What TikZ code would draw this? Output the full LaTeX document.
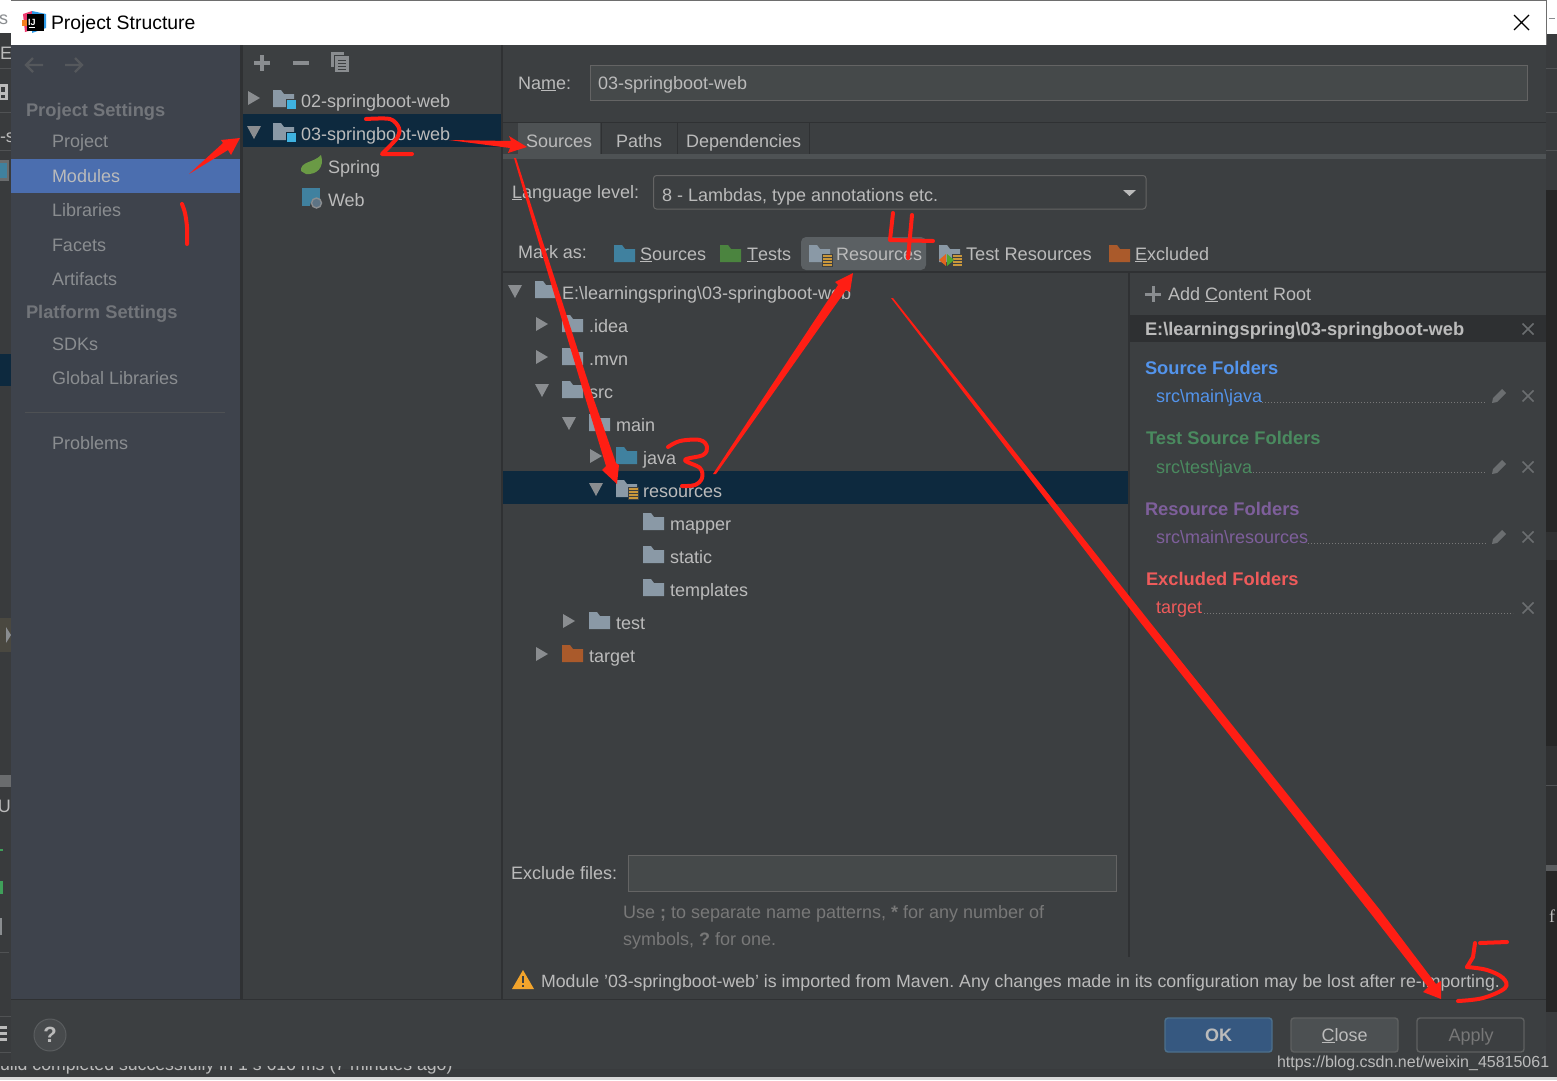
\documentclass[tikz,border=0pt]{standalone}
\usepackage{fontspec}
\setmainfont{Liberation Sans}
\newfontfamily\stripserif{Liberation Serif}
\definecolor{sidebar}{HTML}{3E434C}
\definecolor{panel}{HTML}{3C3F41}
\definecolor{divider}{HTML}{2F3133}
\definecolor{selrow}{HTML}{0D293E}
\definecolor{modsel}{HTML}{4B6EAF}
\definecolor{uitext}{HTML}{BBBBBB}
\definecolor{dimtext}{HTML}{8A8D90}
\definecolor{hinttext}{HTML}{787878}
\definecolor{sectext}{HTML}{72757A}
\definecolor{foldergrey}{HTML}{8A99A6}
\definecolor{folderblue}{HTML}{40819F}
\definecolor{foldergreen}{HTML}{4B843F}
\definecolor{folderorange}{HTML}{AA5A2B}
\definecolor{modblue}{HTML}{3FB2E0}
\definecolor{resbar}{HTML}{C9973C}
\definecolor{redmark}{HTML}{FF1E14}
\definecolor{srcblue}{HTML}{5394EC}
\definecolor{tstgreen}{HTML}{4A8A5F}
\definecolor{respurple}{HTML}{7E5F9B}
\definecolor{exred}{HTML}{EF5B5B}
\definecolor{iconx}{HTML}{6B6E70}
\definecolor{fieldfill}{HTML}{45494A}
\definecolor{fieldline}{HTML}{646464}
\definecolor{stripdark}{HTML}{393B3D}
\definecolor{stripblack}{HTML}{262626}
\definecolor{stripmid}{HTML}{303132}
\definecolor{stripgrey}{HTML}{5A5C5E}
\definecolor{stripbrown}{HTML}{4A4840}
\definecolor{stripbar}{HTML}{6A6C6E}
\definecolor{stripline}{HTML}{505254}
\definecolor{screenlight}{HTML}{D8D8D8}
\definecolor{sepline}{HTML}{4E5154}
\definecolor{ijpink}{HTML}{EE3A6E}
\definecolor{ijblue}{HTML}{2E9BE8}
\definecolor{ijorange}{HTML}{F58020}
\definecolor{navarrow}{HTML}{55585C}
\definecolor{springgreen}{HTML}{6A9A45}
\definecolor{globefill}{HTML}{5E7485}
\definecolor{tabfill}{HTML}{4E5254}
\definecolor{markfill}{HTML}{5B6063}
\definecolor{arrowor}{HTML}{E2651F}
\definecolor{arrowgr}{HTML}{4DA72E}
\definecolor{rootbar}{HTML}{2E3032}
\definecolor{warnfill}{HTML}{F2A42C}
\definecolor{helpfill}{HTML}{474A4C}
\definecolor{helpline}{HTML}{5A5D5F}
\definecolor{okfill}{HTML}{365880}
\definecolor{okline}{HTML}{4C708C}
\definecolor{btnfill}{HTML}{4C5052}
\definecolor{btnline}{HTML}{5E6060}
\definecolor{offtext}{HTML}{777777}
\definecolor{stripgreen}{HTML}{3F9F5A}
\definecolor{frameline}{HTML}{6E6E6E}
\tikzset{
  x=1pt,y=-1pt,
  every node/.style={inner sep=0pt,outer sep=0pt},
  uilabel/.style={anchor=base west,text=uitext,font=\fontsize{18}{20}\selectfont\frenchspacing},
  dimlabel/.style={uilabel,text=dimtext},
  seclabel/.style={uilabel,text=sectext,font=\fontsize{18.3}{20}\selectfont\bfseries},
  boldlabel/.style={uilabel,font=\fontsize{18.3}{20}\selectfont\bfseries},
  hint/.style={uilabel,text=hinttext},
  btnlabel/.style={anchor=base,text=uitext,font=\fontsize{18}{20}\selectfont},
  redline/.style={draw=redmark,line width=4pt,line cap=round,line join=round},
  redfill/.style={fill=redmark,draw=none},
  xicon/.style={draw=iconx,line width=1.6pt},
  tick/.style={fill=dimtext,draw=none},
  dotline/.style={draw=hinttext,line width=0.7pt,dash pattern=on 1pt off 2pt},
}
\newcommand{\folderic}[4][foldergrey]{%
  \fill[#1] (#2,#3) -- ++(8,0) -- ++(3,4) -- ++(10,0) -- ++(0,13) -- ++(-21,0) -- cycle;}
\newcommand{\resbars}[2]{%
  \fill[panel] (#1-1,#2-1) rectangle ++(11,13);
  \foreach \k in {0,3,6,9}{\fill[resbar] (#1,#2+\k) rectangle ++(9,2);}}
\newcommand{\tridown}[2]{\fill[tick] (#1,#2) -- ++(14,0) -- ++(-7,13) -- cycle;}
\newcommand{\triright}[2]{\fill[tick] (#1,#2) -- ++(12,7) -- ++(-12,7) -- cycle;}
\newcommand{\crossic}[2]{\draw[xicon] (#1-5.5,#2-5.5) -- ++(11,11) (#1+5.5,#2-5.5) -- ++(-11,11);}
\newcommand{\pencilic}[2]{\fill[iconx] (#1-7,#2+7) -- ++(1,-5) -- ++(9,-9) -- ++(4,4) -- ++(-9,9) -- cycle;}
\begin{document}
\begin{tikzpicture}
\useasboundingbox (0,0) rectangle (1557,1080);
% --- surrounding desktop strips
\fill[stripdark] (0,0) rectangle (1557,1080);
\fill[white] (0,0) rectangle (11,33);
\node[uilabel,text=dimtext] (lefts) at (-1,24) {s};
\node[uilabel] (lefte) at (0,59) {Ec};
\draw[stripline,line width=1pt] (0,68) -- (11,68) (0,112) -- (11,112) (0,150) -- (11,150);
\fill[uitext] (0,84) rectangle (8,100);
\fill[stripdark] (1,87) rectangle (5,92);
\fill[stripdark] (1,95) rectangle (5,98);
\node[uilabel] (lefts2) at (0,142) {-s};
\fill[stripbar] (0,160) rectangle (9,181);
\fill[folderblue] (0,163) rectangle (7,178);
\fill[selrow] (0,354) rectangle (11,386);
\fill[stripbrown] (0,618) rectangle (11,652);
\fill[tick] (6,627) -- (11,635) -- (6,643) -- cycle;
\fill[stripbar] (0,775) rectangle (11,787);
\node[uilabel] (leftu) at (-2,812) {UI};
\fill[stripgreen] (0,849) rectangle (3,851);
\fill[stripgreen] (0,881) rectangle (3,894);
\fill[dimtext] (0,918) rectangle (2,935);
\draw[stripline,line width=1pt] (0,952) -- (9,952) (0,1016) -- (11,1016) (0,1052) -- (11,1052);
\foreach \yy in {1026,1032,1038}{\fill[uitext] (0,\yy) rectangle (7,\yy+3);}
\fill[white] (1546,0) rectangle (1557,34);
\draw[dimtext,line width=1pt] (1549,18) -- (1555,18);
\draw[stripline,line width=1pt] (1546,68) -- (1557,68) (1546,112) -- (1557,112) (1546,150) -- (1557,150);
\fill[stripblack] (1546,190) rectangle (1557,746);
\fill[stripmid] (1546,532) rectangle (1557,560);
\fill[stripmid] (1546,746) rectangle (1557,865);
\draw[stripline,line width=1pt] (1546,785) -- (1557,785);
\fill[stripgrey] (1546,865) rectangle (1557,871);
\fill[stripblack] (1546,871) rectangle (1557,1012);
\node[anchor=base west,text=uitext,font=\stripserif\fontsize{18}{20}\selectfont] (rightf) at (1549,922) {f};
\fill[screenlight] (0,1077) rectangle (1557,1080);
% --- dialog
\fill[white] (11,0) rectangle (1546,45);
\draw[frameline,line width=1pt] (11,0.5) -- (1546,0.5);
\draw[frameline,line width=1pt] (1546,0) -- (1546,45);
\fill[panel] (11,45) rectangle (1546,1069);
\fill[sidebar] (11,45) rectangle (240,999);
\fill[divider] (240,45) rectangle (243,999);
\fill[divider] (501,45) rectangle (503,999);
\fill[modsel] (11,159) rectangle (240,193);
\fill[selrow] (243,114) rectangle (501,147);
\fill[selrow] (503,471) rectangle (1129,504);
\draw[divider,line width=1pt] (503,122) -- (1546,122);
\draw[divider,line width=1.5pt] (503,272) -- (1546,272);
\draw[divider,line width=1.5pt] (1129,272) -- (1129,957);
\draw[divider,line width=1pt] (11,999) -- (1546,999);
\draw[sepline,line width=1pt] (25,412) -- (225,412);
% --- title bar
\fill[ijpink] (23,14) -- (32,11) -- (32,30) -- (25,32) -- cycle;
\fill[ijblue] (32,11) -- (46,14) -- (46,28) -- (32,33) -- cycle;
\fill[ijorange] (22,20) rectangle (28,26);
\fill[black] (27,14) rectangle (44,31);
\node[anchor=base west,text=white,font=\fontsize{9}{9}\selectfont\bfseries] (iconij) at (28,25) {IJ};
\fill[white] (29,27) rectangle (35,28);
\node[anchor=base west,text=black,font=\fontsize{19.4}{20}\selectfont] (title) at (51,29) {Project Structure};
\draw[black,line width=1.2pt] (1514,15) -- (1529,30) (1529,15) -- (1514,30);
% --- left sidebar
\draw[navarrow,line width=2.4pt] (43,65) -- (26,65) (33,58) -- (26,65) -- (33,72);
\draw[navarrow,line width=2.4pt] (65,65) -- (82,65) (75,58) -- (82,65) -- (75,72);
\node[seclabel] (s1) at (26,116) {Project Settings};
\node[dimlabel] (m1) at (52,147) {Project};
\node[uilabel] (m2) at (52,182) {Modules};
\node[dimlabel] (m3) at (52,216) {Libraries};
\node[dimlabel] (m4) at (52,251) {Facets};
\node[dimlabel] (m5) at (52,285) {Artifacts};
\node[seclabel] (s2) at (26,318) {Platform Settings};
\node[dimlabel] (m6) at (52,350) {SDKs};
\node[dimlabel] (m7) at (52,384) {Global Libraries};
\node[dimlabel] (m8) at (52,449) {Problems};
% --- module list
\draw[dimtext,line width=3.2pt] (254,63) -- (270,63) (262,55) -- (262,71);
\draw[dimtext,line width=3.2pt] (293,63) -- (309,63);
\fill[dimtext] (331,52) rectangle (344,67);
\fill[panel] (334,55) rectangle (344,67);
\fill[dimtext] (335,56) rectangle (349,72);
\foreach \yy in {60,63,66,69}{\fill[panel] (338,\yy) rectangle (346,\yy+1.4);}
\triright{248}{91}
\folderic{273}{90}{}
\fill[panel] (286,99) rectangle (296,110);
\fill[modblue] (287,100) rectangle (296,109);
\node[uilabel] (mod2) at (301,107) {02-springboot-web};
\tridown{247}{126}
\folderic{273}{123}{}
\fill[selrow] (286,132) rectangle (296,143);
\fill[modblue] (287,133) rectangle (296,142);
\node[uilabel] (mod3) at (301,140) {03-springboot-web};
\fill[springgreen] (301,171) .. controls (300,161) and (314,163) .. (321,155) .. controls (325,168) and (316,175) .. (306,174) -- cycle;
\node[uilabel] (spring) at (328,173) {Spring};
\fill[folderblue] (302,188) rectangle (320,206);
\fill[panel] (317,206) circle (7);
\draw[dimtext,line width=1.4pt,fill=globefill] (316.5,203) circle (5);
\node[uilabel] (web) at (328,206) {Web};
% --- right upper
\node[uilabel] (nm) at (518,89) {Na\underline{m}e:};
\filldraw[fill=fieldfill,draw=fieldline,line width=1pt] (590.5,65.5) rectangle (1527,100);
\node[uilabel] (nmv) at (598,89) {03-springboot-web};
\fill[tabfill] (518,123) rectangle (600,154);
\fill[tabfill] (503,154) rectangle (1546,159);
\draw[divider,line width=1pt] (601.5,123) -- (601.5,154) (677.5,123) -- (677.5,154) (809.5,123) -- (809.5,154);
\node[uilabel] (t1) at (526,147) {Sources};
\node[uilabel] (t2) at (616,147) {Paths};
\node[uilabel] (t3) at (686,147) {Dependencies};
\node[uilabel] (ll) at (512,198) {\underline{L}anguage level:};
\draw[fieldline,rounded corners=3pt,line width=1pt] (653.5,175.5) rectangle (1146,209);
\node[uilabel] (llv) at (662,201) {8 - Lambdas, type annotations etc.};
\fill[uitext] (1123,190) -- (1136,190) -- (1129.5,196) -- cycle;
\node[uilabel] (ma) at (518,258) {Mark as:};
\folderic[folderblue]{614}{245}{}
\node[uilabel] (ma1) at (640,260) {\underline{S}ources};
\folderic[foldergreen]{720}{245}{}
\node[uilabel] (ma2) at (747,260) {\underline{T}ests};
\fill[markfill,rounded corners=5pt] (801,237) rectangle (926,270);
\folderic{809}{245}{}
\resbars{823}{255}
\node[uilabel] (ma3) at (836,260) {Resources};
\folderic{939}{245}{}
\resbars{953}{255}
\fill[arrowor] (946,254) -- (946,266) -- (939,260) -- cycle;
\fill[arrowgr] (947,254) -- (947,266) -- (954,260) -- cycle;
\node[uilabel,font=\fontsize{18.25}{20}\selectfont] (ma4) at (966,260) {Test Resources};
\folderic[folderorange]{1109}{245}{}
\node[uilabel] (ma5) at (1135,260) {\underline{E}xcluded};
% --- tree
\tridown{508}{285}\folderic{535}{281}{}
\node[uilabel] (r0) at (562,299) {E:\textbackslash learningspring\textbackslash 03-springboot-web};
\triright{536}{317}\folderic{562}{315}{}
\node[uilabel] (r1) at (589,332) {.idea};
\triright{536}{350}\folderic{562}{348}{}
\node[uilabel] (r2) at (589,365) {.mvn};
\tridown{535}{384}\folderic{562}{381}{}
\node[uilabel] (r3) at (589,398) {src};
\tridown{562}{417}\folderic{589}{414}{}
\node[uilabel] (r4) at (616,431) {main};
\triright{590}{449}\folderic[folderblue]{616}{447}{}
\node[uilabel] (r5) at (643,464) {java};
\tridown{589}{483}\folderic{616}{480}{}
\resbars{629}{488}
\node[uilabel] (r6) at (643,497) {resources};
\folderic{643}{513}{}
\node[uilabel] (r7) at (670,530) {mapper};
\folderic{643}{546}{}
\node[uilabel] (r8) at (670,563) {static};
\folderic{643}{579}{}
\node[uilabel] (r9) at (670,596) {templates};
\triright{563}{614}\folderic{589}{612}{}
\node[uilabel] (r10) at (616,629) {test};
\triright{536}{647}\folderic[folderorange]{562}{645}{}
\node[uilabel] (r11) at (589,662) {target};
% --- content root panel
\draw[dimtext,line width=3pt] (1145,294) -- (1161,294) (1153,286) -- (1153,302);
\node[uilabel] (cr) at (1168,300) {Add \underline{C}ontent Root};
\fill[rootbar] (1130,315) rectangle (1546,342);
\node[boldlabel] (crp) at (1145,335) {E:\textbackslash learningspring\textbackslash 03-springboot-web};
\crossic{1528}{329}
\node[boldlabel,text=srcblue] (h1) at (1145,374) {Source Folders};
\node[uilabel,text=srcblue] (p1) at (1156,402) {src\textbackslash main\textbackslash java};
\draw[dotline] (1262,402) -- (1486,402);
\pencilic{1499}{396}\crossic{1528}{396}
\node[boldlabel,text=tstgreen] (h2) at (1146,444) {Test Source Folders};
\node[uilabel,text=tstgreen] (p2) at (1156,473) {src\textbackslash test\textbackslash java};
\draw[dotline] (1253,472) -- (1486,472);
\pencilic{1499}{467}\crossic{1528}{467}
\node[boldlabel,text=respurple] (h3) at (1145,515) {Resource Folders};
\node[uilabel,text=respurple] (p3) at (1156,543) {src\textbackslash main\textbackslash resources};
\draw[dotline] (1308,543) -- (1486,543);
\pencilic{1499}{537}\crossic{1528}{537}
\node[boldlabel,text=exred] (h4) at (1146,585) {Excluded Folders};
\node[uilabel,text=exred] (p4) at (1156,613) {target};
\draw[dotline] (1204,613) -- (1513,613);
\crossic{1528}{608}
% --- bottom part
\node[uilabel] (ex) at (511,879) {Exclude files:};
\filldraw[fill=fieldfill,draw=fieldline,line width=1pt] (628.5,855.5) rectangle (1116,891);
\node[hint] (ht1) at (623,918) {Use \textbf{;} to separate name patterns, \textbf{*} for any number of};
\node[hint] (ht2) at (623,945) {symbols, \textbf{?} for one.};
\fill[warnfill] (523,970) -- (534,989) -- (512,989) -- cycle;
\fill[panel] (522,976) rectangle (524,983);
\fill[panel] (522,984.5) rectangle (524,987);
\node[uilabel,font=\fontsize{17.75}{20}\selectfont\frenchspacing] (warn) at (541,987) {Module \symbol{39}03-springboot-web\symbol{39} is imported from Maven. Any changes made in its configuration may be lost after re-importing.};
\filldraw[fill=helpfill,draw=helpline,line width=1pt] (50,1035) circle (16);
\node[anchor=center,text=uitext,font=\fontsize{22}{22}\selectfont\bfseries] (help) at (50,1035) {?};
\filldraw[fill=okfill,draw=okline,line width=1.4pt,rounded corners=3pt] (1165,1018) rectangle (1272,1052);
\node[btnlabel,font=\fontsize{18}{20}\selectfont\bfseries] (ok) at (1218.5,1041) {OK};
\filldraw[fill=btnfill,draw=btnline,line width=1.4pt,rounded corners=3pt] (1291,1018) rectangle (1398,1052);
\node[btnlabel] (cl) at (1344.5,1041) {\underline{C}lose};
\draw[btnline,line width=1.4pt,rounded corners=3pt] (1417,1018) rectangle (1524,1052);
\node[btnlabel,text=offtext] (ap) at (1471,1041) {Apply};
\node[uilabel,font=\fontsize{16}{18}\selectfont] (url) at (1277,1067) {https://blog.csdn.net/weixin\_45815061};
\begin{scope}
\clip (0,1066) rectangle (460,1077);
\node[uilabel,font=\fontsize{17.7}{20}\selectfont\frenchspacing] (bg) at (0,1070) {uild completed successfully in 1 s 616 ms (7 minutes ago)};
\end{scope}
% --- red annotations
\fill[redfill] (189,174) -- (223,143) -- (221,140) -- (240,138) -- (231,155) -- (228,150) -- cycle;
\fill[redfill] (449,140) -- (511,141) -- (509,136) -- (527,147) -- (508,153) -- (510,148) -- cycle;
\fill[redfill] (514,158) -- (535,230) -- (585,397) -- (606,466) -- (602,470) -- (617,484) -- (619,465) -- (616,463) -- (593,397) -- (539,230) -- (516,158) -- cycle;
\fill[redfill] (713,474) -- (838,285) -- (835,282) -- (853,273) -- (850,292) -- (846,290) -- (716,474) -- cycle;
\fill[redfill] (891,298) -- (1140,622) -- (1368,910) -- (1428,987) -- (1423,992) -- (1441,999) -- (1441,981) -- (1436,984) -- (1380,910) -- (1153,626) -- (893,298) -- cycle;
\draw[redline] plot[smooth] coordinates {(182,204) (185,213) (187,227) (187,244)};
\draw[redline] plot[smooth,tension=0.5] coordinates {(366,119) (390,119) (399,128) (397,138) (382,154)} -- (412,154);
\draw[redline] plot[smooth,tension=0.6] coordinates {(668,447) (680,441) (700,440) (707,447) (703,455) (685,460) (700,468) (702,478) (695,485) (682,486)};
\draw[redline] (893,213) -- (890,240) -- (933,241) (912,215) -- (908,258);
\draw[redline] (1507,942) -- (1480,943) (1475,943) -- (1473,957) -- (1467,967);
\draw[redline] plot[smooth,tension=0.6] coordinates {(1467,967) (1487,970) (1503,978) (1505,988) (1483,998) (1458,1001)};
\end{tikzpicture}
\end{document}
